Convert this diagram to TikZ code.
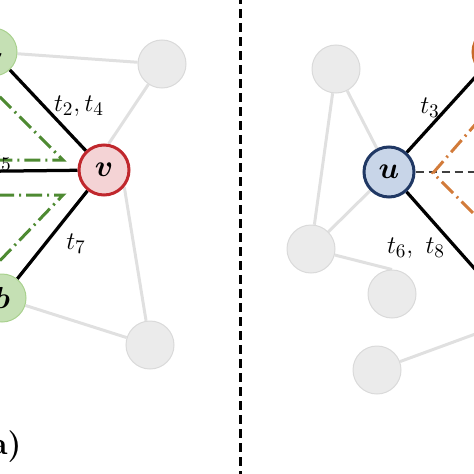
\documentclass[tikz,border=0pt]{standalone}
\usepackage{amsmath}
\usepackage{bm}
\usepackage{xcolor}
\usepackage{tikz}
\usetikzlibrary{backgrounds}
\definecolor{greenfill}{HTML}{C5E0B4}
\definecolor{greendraw}{HTML}{A9D18E}
\definecolor{greenline}{HTML}{4E8A32}
\definecolor{redfill}{HTML}{F4D3D5}
\definecolor{reddraw}{HTML}{C0272D}
\definecolor{bluefill}{HTML}{C8D5E8}
\definecolor{bluedraw}{HTML}{203864}
\definecolor{orangefill}{HTML}{F8CBAD}
\definecolor{orangedraw}{HTML}{C86A2A}
\definecolor{orangeline}{HTML}{D27B3A}
\definecolor{grayfill}{HTML}{EBEBEB}
\definecolor{graydraw}{HTML}{DADADA}
\definecolor{edgegray}{HTML}{E0E0E0}

\begin{document}
\begin{tikzpicture}[
    x=0.2mm, y=-0.2mm,
    font=\fontsize{15}{17}\selectfont,
    vertex/.style={circle, minimum size=9.6mm, inner sep=0pt, font=\fontsize{19}{20}\selectfont},
    grayv/.style={vertex, draw=graydraw, fill=grayfill, line width=0.2mm},
    greenv/.style={vertex, draw=greendraw, fill=greenfill, line width=0.2mm},
    redv/.style={vertex, minimum size=10mm, draw=reddraw, fill=redfill, line width=0.6mm},
    bluev/.style={vertex, minimum size=10mm, draw=bluedraw, fill=bluefill, line width=0.6mm},
    orangev/.style={vertex, minimum size=10mm, draw=orangedraw, fill=orangefill, line width=0.6mm},
    tedge/.style={black, line width=0.65mm},
    faint/.style={edgegray, line width=0.6mm},
    greenpath/.style={greenline, line width=0.6mm, dash pattern=on 3.2mm off 1mm on 0.4mm off 1mm},
    orangepath/.style={orangeline, line width=0.6mm, dash pattern=on 3.2mm off 1mm on 0.4mm off 1mm},
    hint/.style={black!75, line width=0.4mm, dash pattern=on 1.6mm off 1mm},
    divider/.style={black, line width=0.6mm, dash pattern=on 1.8mm off 1mm}
]
\useasboundingbox (0,0) rectangle (474,474);

\node[greenv] (a) at (-7,52) {$\bm{a}$};
\node[greenv] (b) at (2,298) {$\bm{b}$};
\node[redv] (v) at (104,170) {$\bm{v}$};
\node[grayv] (g1) at (162,64) {};
\node[grayv] (g2) at (150,345) {};
\coordinate (w) at (-80,172);

\node[bluev] (u) at (389,172) {$\bm{u}$};
\node[orangev] (o) at (498,52) {};
\node[grayv] (g3) at (336,69) {};
\node[grayv] (g4) at (311,249) {};
\node[grayv] (g5) at (392,294) {};
\node[grayv] (g6) at (377,370) {};
\coordinate (r) at (559,364);
\coordinate (e) at (560,303);
\coordinate (dr) at (480,172);

\coordinate (gs1) at (-20,77);
\coordinate (gv1) at (63,160);
\coordinate (ge1) at (-30,160);
\coordinate (gs2) at (-30,195);
\coordinate (gv2) at (63,195);
\coordinate (ge2) at (-10,271);
\coordinate (ou) at (480,119);
\coordinate (ov) at (433,173);
\coordinate (ol) at (480,220);

\coordinate (sep1) at (240,-5);
\coordinate (sep2) at (240,480);

\node (l24) at (79,106) {$t_2,t_4$};
\node[anchor=east, inner sep=0pt] (l5) at (12,161) {$t_5$};
\node (l7) at (76,244) {$t_7$};
\node (l3) at (430,108) {$t_3$};
\node (l68) at (416,248) {$t_6,\ t_8$};
\node[font=\fontsize{18}{20}\selectfont\bfseries] (cap) at (-1,447) {(a)};

\begin{scope}[on background layer]
\draw[divider] (sep1) -- (sep2);
\draw[faint] (a) -- (g1);
\draw[faint] (g1) -- (v.80);
\draw[faint] (v.-40) -- (g2);
\draw[faint] (b) -- (g2);
\draw[tedge] (a) -- (v);
\draw[tedge] (w) -- (v);
\draw[tedge] (v) -- (b);
\draw[greenpath] (gs1) -- (gv1) -- (ge1);
\draw[greenpath] (gs2) -- (gv2) -- (ge2);

\draw[faint] (g3) -- (u);
\draw[faint] (g3) -- (g4);
\draw[faint] (u) -- (g4);
\draw[faint] (g4) -- (g5.north);
\draw[faint] (g6) -- (e);
\draw[tedge] (u) -- (o);
\draw[tedge] (u) -- (r);
\draw[hint] (u) -- (dr);
\draw[orangepath] (ou) -- (ov) -- (ol);
\end{scope}
\end{tikzpicture}
\end{document}
